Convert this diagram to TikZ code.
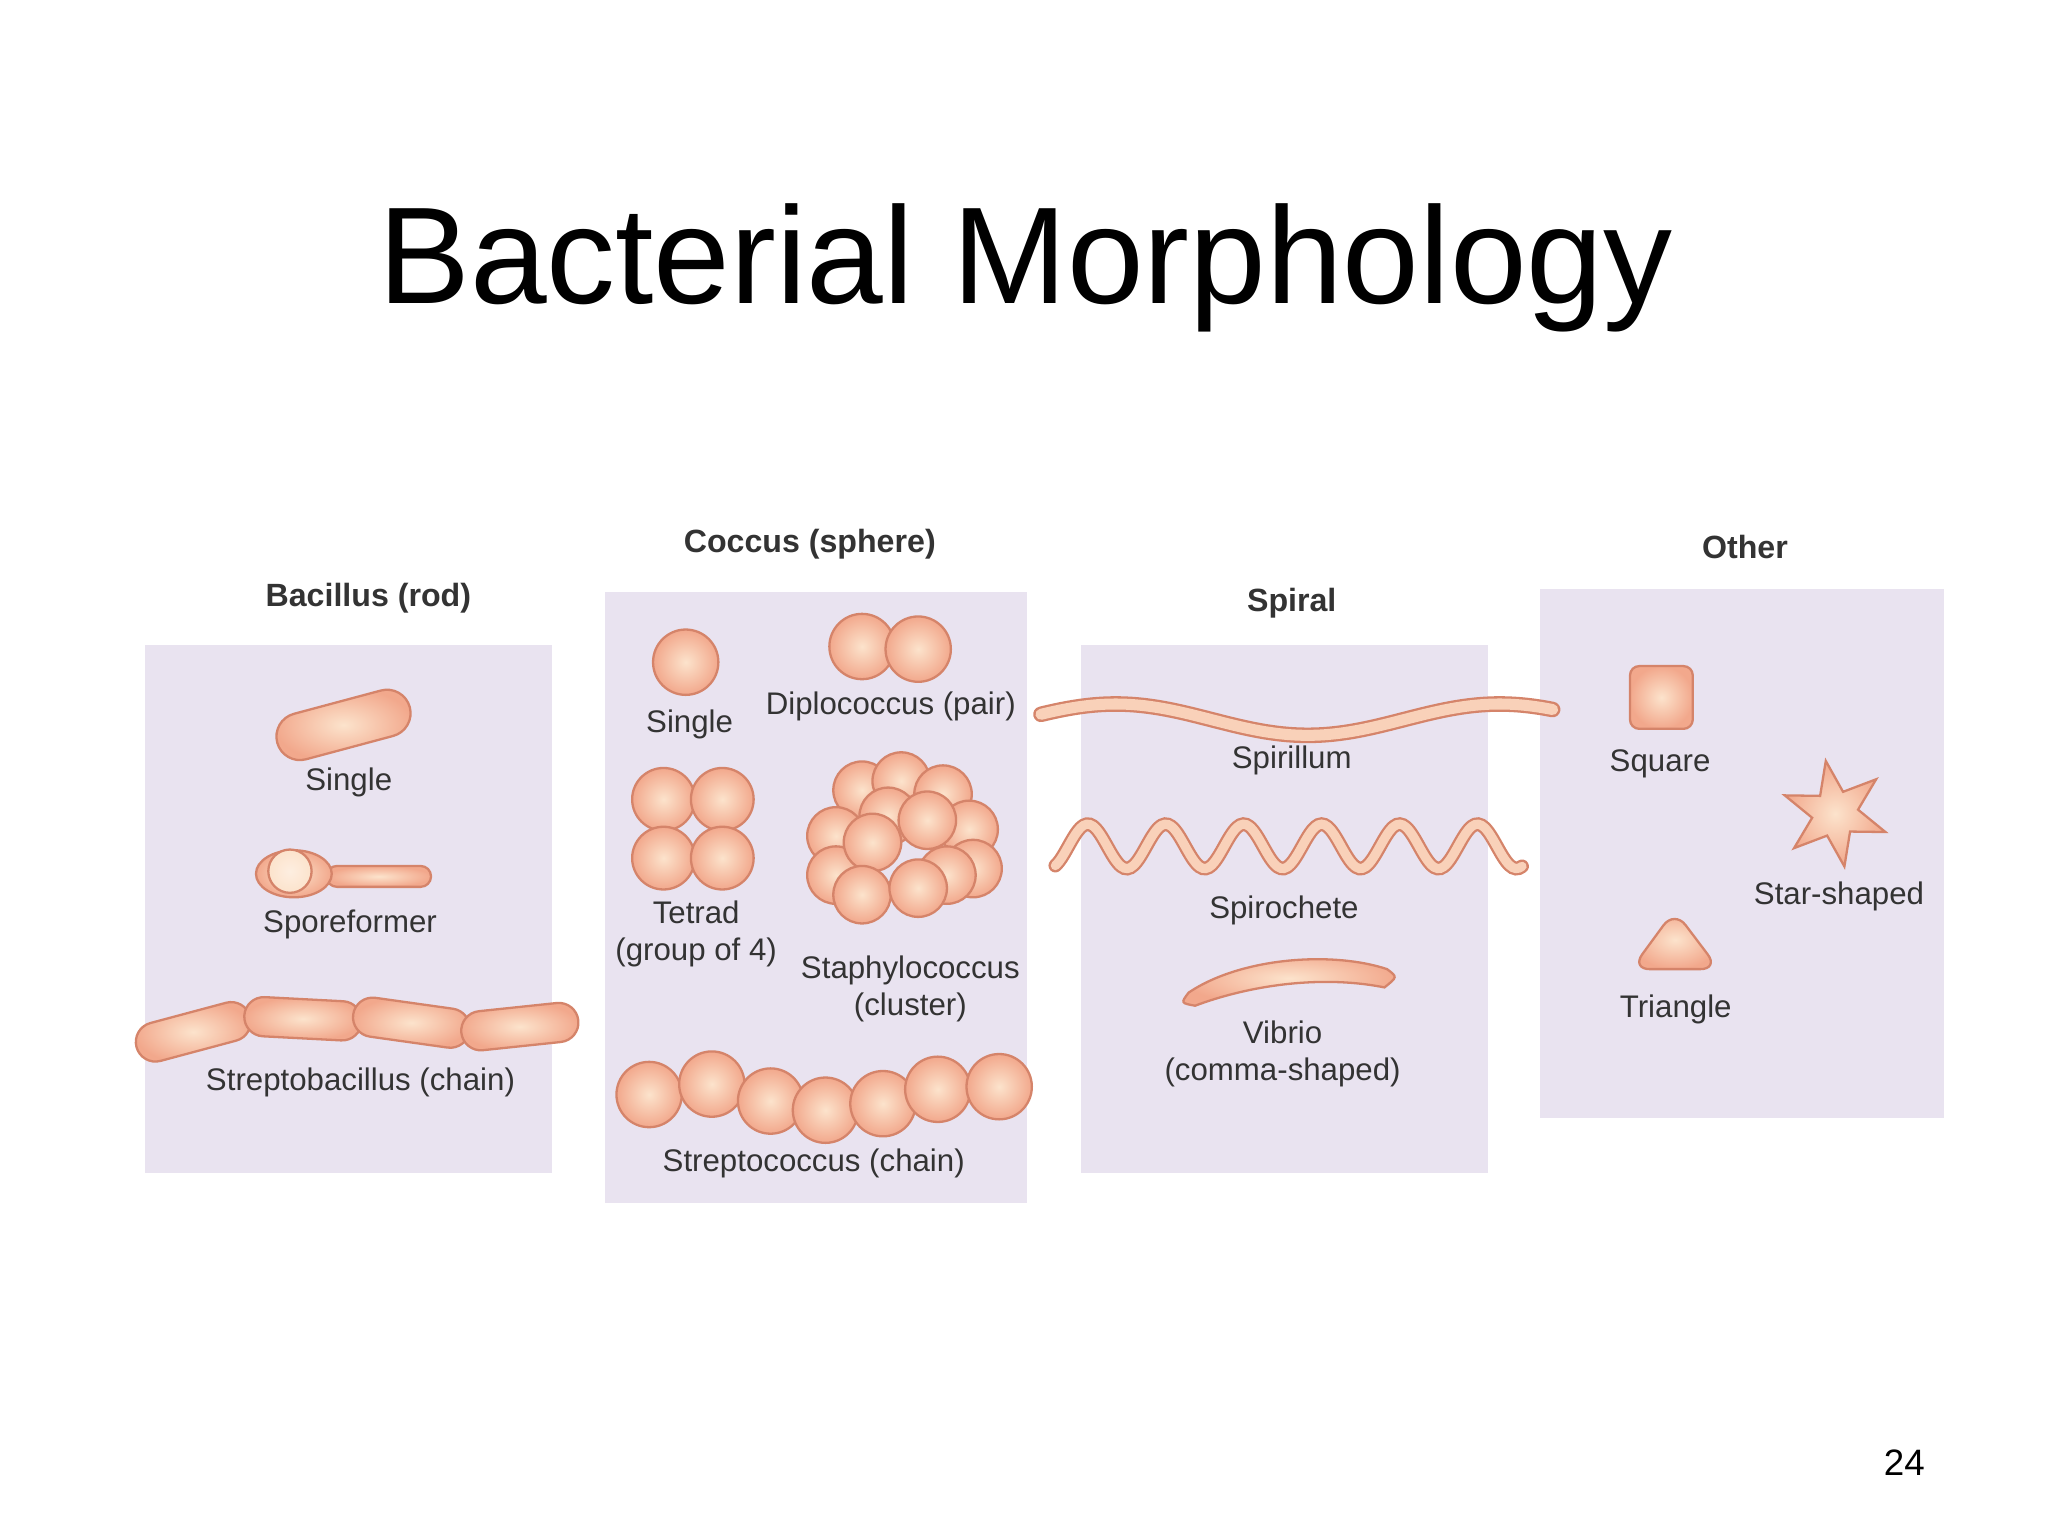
\documentclass[tikz,border=0pt]{standalone}
\usepackage{fontspec}
\setmainfont{Liberation Sans}
\usetikzlibrary{shapes.misc,shapes.geometric}
\definecolor{panel}{HTML}{E9E3F0}
\definecolor{cellin}{HTML}{FCE3CC}
\definecolor{cellout}{HTML}{F2A88C}
\definecolor{cellline}{HTML}{D5846A}
\definecolor{txt}{HTML}{333333}
\begin{document}
\begin{tikzpicture}[x=0.01cm,y=-0.01cm,
  panelbox/.style={fill=panel,draw=none},
  lab/.style={font=\fontsize{6.8}{8}\selectfont,text=txt,align=center,inner sep=0},
  head/.style={font=\fontsize{7}{8}\selectfont\bfseries,text=txt,inner sep=0},
  cell/.style={draw=cellline,line width=0.5pt,inner color=cellin,outer color=cellout},
  coc/.style={cell,circle,minimum size=0.5cm,inner sep=0},
  stc/.style={cell,circle,minimum size=0.44cm,inner sep=0},
  rod/.style={cell,rounded rectangle,minimum width=0.9cm,minimum height=0.3cm,inner sep=0}]
\useasboundingbox (0,0) rectangle (1568,1176);
\fill[white] (0,0) rectangle (1568,1176);
\node[font=\fontsize{30}{36}\selectfont] (title) at (785,205) {Bacterial Morphology};
\node[font=\fontsize{8}{10}\selectfont] (pg) at (1458,1120) {24};
% panels
\fill[panelbox] (111,494) rectangle (423,898);
\fill[panelbox] (463,453) rectangle (786,921);
\fill[panelbox] (828,494) rectangle (1139,898);
\fill[panelbox] (1179,451) rectangle (1488,856);
\node[head] (h1) at (282,458) {Bacillus (rod)};
\node[head] (h2) at (620,417) {Coccus (sphere)};
\node[head] (h3) at (989,462) {Spiral};
\node[head] (h4) at (1336,419) {Other};
% bacillus
\node[rod,minimum width=1.05cm,minimum height=0.36cm,rotate=15] (b1) at (263,555) {};
\node[lab] (l1) at (267,599) {Single};
\node[rod,minimum width=0.8cm,minimum height=0.16cm] (sp2) at (290,671) {};
\node[cell,ellipse,minimum width=0.58cm,minimum height=0.36cm] (sp1) at (225,669) {};
\node[cell,ellipse,minimum width=0.32cm,minimum height=0.2cm,inner color=cellin!60!white,outer color=cellin] (spo) at (222,667) {};
\node[lab] (l2) at (268,708) {Sporeformer};
\node[rod,rotate=15] (r1) at (148,790) {};
\node[rod,rotate=-3] (r2) at (232,780) {};
\node[rod,rotate=-8] (r3) at (315,783) {};
\node[rod,rotate=6] (r4) at (398,786) {};
\node[lab] (l3) at (276,829) {Streptobacillus (chain)};
% coccus
\node[coc] (c1) at (525,507) {};
\node[lab] (l4) at (528,555) {Single};
\node[coc] (d1) at (660,495) {};
\node[coc] (d2) at (703,497) {};
\node[lab] (l5) at (682,541) {Diplococcus (pair)};
\node[coc,minimum size=0.48cm] (t1) at (508,612) {};
\node[coc,minimum size=0.48cm] (t2) at (553,612) {};
\node[coc,minimum size=0.48cm] (t3) at (508,657) {};
\node[coc,minimum size=0.48cm] (t4) at (553,657) {};
\node[lab] (l6) at (533,715) {Tetrad\\(group of 4)};
\foreach \i/\p in {1/{(660,605)},2/{(690,598)},3/{(722,608)},4/{(742,635)},5/{(640,640)},6/{(745,665)},7/{(640,670)},8/{(680,625)}}
  \node[stc] (sa\i) at \p {};
\foreach \i/\p in {1/{(668,645)},2/{(710,628)},3/{(725,670)},4/{(660,685)},5/{(703,680)}}
  \node[stc] (sb\i) at \p {};
\node[lab] (l7) at (697,757) {Staphylococcus\\(cluster)};
\foreach \i/\p in {1/{(497,838)},2/{(545,830)},3/{(590,843)},4/{(632,850)},5/{(676,845)},6/{(718,834)},7/{(765,832)}}
  \node[coc] (k\i) at \p {};
\node[lab] (l8) at (623,891) {Streptococcus (chain)};
% spiral
\draw[cellline,line width=3.4pt,line cap=round] plot[smooth,samples=80,domain=0:1] ({797+392*\x},{551-12*sin(480*\x+20)});
\draw[cellin!70!cellout,line width=2.4pt,line cap=round] plot[smooth,samples=80,domain=0:1] ({797+392*\x},{551-12*sin(480*\x+20)});
\node[lab] (l9) at (989,582) {Spirillum};
\draw[cellline,line width=3pt,line cap=round] plot[smooth,samples=150,domain=0:1] ({808+358*\x},{648-17*sin(2160*\x-60)});
\draw[cellin!70!cellout,line width=2pt,line cap=round] plot[smooth,samples=150,domain=0:1] ({808+358*\x},{648-17*sin(2160*\x-60)});
\node[lab] (l10) at (983,697) {Spirochete};
\draw[cell] (910,760) .. controls (950,733) and (1020,728) .. (1062,742) .. controls (1070,748) .. (1060,756) .. controls (1010,746) and (955,755) .. (915,770) .. controls (904,768) .. cycle;
\node[lab] (l11) at (982,807) {Vibrio\\(comma-shaped)};
% other
\node[cell,rectangle,rounded corners=2pt,minimum size=0.48cm] (sq) at (1272,534) {};
\node[lab] (l12) at (1271,585) {Square};
\node[cell,star,star points=6,star point ratio=2.3,minimum size=0.82cm,inner sep=0,rotate=10] (st) at (1405,623) {};
\node[lab] (l13) at (1408,686) {Star-shaped};
\draw[cell,rounded corners=4pt] (1282,697) -- (1316,742) -- (1249,742) -- cycle;
\node[lab] (l14) at (1283,773) {Triangle};
\end{tikzpicture}
\end{document}
